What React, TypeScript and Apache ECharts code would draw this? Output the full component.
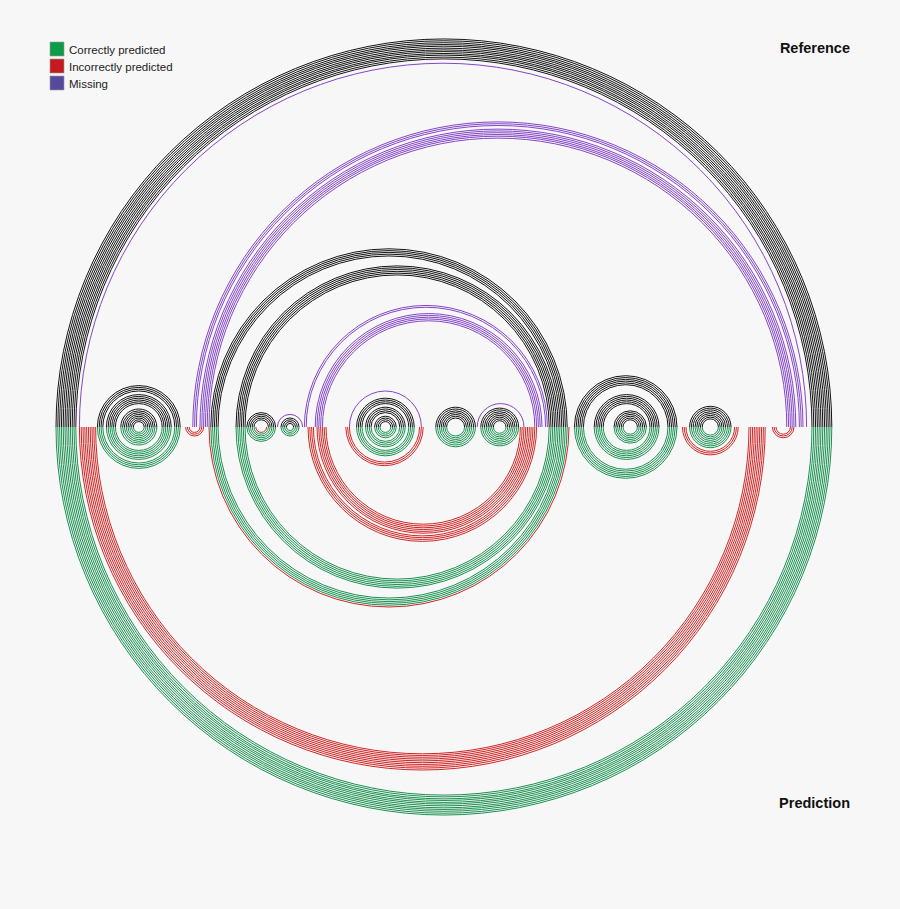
import React, { useEffect, useRef } from "react";
import * as echarts from "echarts";

// Sequence length (nucleotide positions along the horizontal axis)
const SEQ_LENGTH = 432;

// Helices as [i, j, length]: pairs (i+t, j-t) for t = 0..length-1
// Reference pairs that the prediction also contains (black on top, green below)
const matchedHelices: number[][] = [
  [1, 432, 12],
  [24, 70, 4],
  [29, 65, 6],
  [37, 57, 8],
  [87, 285, 5],
  [101, 280, 6],
  [107, 123, 5],
  [126, 136, 4],
  [168, 200, 4],
  [173, 195, 4],
  [178, 190, 4],
  [212, 234, 7],
  [237, 258, 4],
  [241, 254, 4],
  [289, 346, 6],
  [300, 336, 6],
  [311, 329, 6],
  [353, 376, 8],
];

// Reference pairs missing from the prediction (purple, top)
const missingHelices: number[][] = [
  [14, 418, 1],
  [77, 416, 3],
  [81, 412, 6],
  [124, 138, 1],
  [139, 274, 2],
  [145, 271, 5],
  [164, 204, 1],
  [235, 261, 1],
];

// Predicted pairs not in the reference (red, bottom)
const incorrectHelices: number[][] = [
  [14, 395, 10],
  [73, 83, 3],
  [86, 286, 1],
  [112, 118, 1],
  [141, 268, 4],
  [146, 264, 6],
  [162, 205, 3],
  [349, 380, 3],
  [399, 411, 3],
];

const legendLabels = ["Correctly predicted", "Incorrectly predicted", "Missing"];
const panelTitles = ["Reference", "Prediction"];

const LINE_COLORS = {
  ref: "#141414",
  missing: "#8446c8",
  correct: "#1a9150",
  wrong: "#d22626",
};
const LEGEND_COLORS = ["#0e9c47", "#c41a20", "#564a9c"];

function expand(helices: number[][]): number[][] {
  const out: number[][] = [];
  for (const h of helices) {
    const [i, j, n] = h;
    for (let t = 0; t < n; t++) out.push([i + t, j - t]);
  }
  return out;
}

function arcSeries(name: string, data: number[][], color: string, bottom: boolean) {
  return {
    type: "custom",
    name,
    coordinateSystem: "cartesian2d",
    clip: false,
    silent: true,
    data,
    encode: { x: [0, 1] },
    renderItem: (params: any, api: any) => {
      const a = api.coord([api.value(0), 0]);
      const b = api.coord([api.value(1), 0]);
      const cx = (a[0] + b[0]) / 2;
      const r = Math.abs(b[0] - a[0]) / 2;
      return {
        type: "arc",
        shape: {
          cx,
          cy: a[1],
          r,
          startAngle: bottom ? 0 : Math.PI,
          endAngle: bottom ? Math.PI : Math.PI * 2,
          clockwise: true,
        },
        style: { stroke: color, fill: null, lineWidth: 1 },
      };
    },
  };
}

export default function App() {
  const ref = useRef<HTMLDivElement>(null);

  useEffect(() => {
    if (!ref.current) return;
    const chart = echarts.init(ref.current, null, { renderer: "svg" });
    const matched = expand(matchedHelices);
    const missing = expand(missingHelices);
    const wrong = expand(incorrectHelices);
    const font = "'Liberation Sans', Arial, Helvetica, sans-serif";

    const legendGraphics: any[] = [];
    legendLabels.forEach((label, k) => {
      const y = 42 + k * 17;
      legendGraphics.push({
        type: "rect",
        shape: { x: 50, y, width: 14, height: 14 },
        style: { fill: LEGEND_COLORS[k], stroke: "#9a9a9a", lineWidth: 0.6 },
      });
      legendGraphics.push({
        type: "text",
        x: 69,
        y: y + 7.5,
        style: {
          text: label,
          fontSize: 11.5,
          fontFamily: font,
          fill: "#222",
          verticalAlign: "middle",
          align: "left",
        },
      });
    });

    const titleGraphics = panelTitles.map((t, k) => ({
      type: "text",
      x: 850,
      y: k === 0 ? 48 : 803,
      style: {
        text: t,
        fontSize: 14.5,
        fontWeight: "bold",
        fontFamily: font,
        fill: "#111",
        align: "right",
        verticalAlign: "middle",
      },
    }));

    chart.setOption({
      animation: false,
      backgroundColor: "#f7f7f7",
      grid: { left: 56, right: 68.2, top: 0, bottom: 55 },
      xAxis: { type: "value", min: 1, max: SEQ_LENGTH, show: false },
      yAxis: { type: "value", min: -1, max: 1, show: false },
      graphic: [...legendGraphics, ...titleGraphics],
      series: [
        arcSeries("Reference matched", matched, LINE_COLORS.ref, false),
        arcSeries("Missing", missing, LINE_COLORS.missing, false),
        arcSeries("Correctly predicted", matched, LINE_COLORS.correct, true),
        arcSeries("Incorrectly predicted", wrong, LINE_COLORS.wrong, true),
      ],
    });
    return () => chart.dispose();
  }, []);

  return (
    <div
      ref={ref}
      style={{ position: "absolute", left: 0, top: 0, width: 900, height: 909, background: "#f7f7f7" }}
    />
  );
}
